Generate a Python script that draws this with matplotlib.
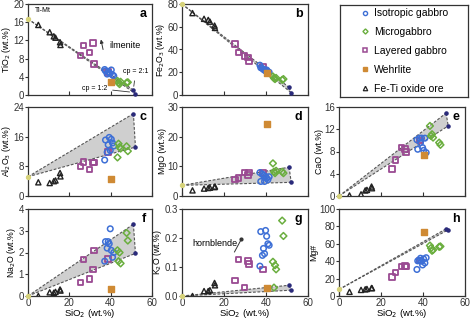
import matplotlib
matplotlib.use('Agg')
import matplotlib.pyplot as plt
from matplotlib.lines import Line2D

plt.rcParams['font.family'] = ['Liberation Sans', 'DejaVu Sans']
plt.rcParams['font.size'] = 7

# ================= data =================
# Fe-Ti oxide ore
ore_sio2 = [5.0, 10.5, 12.5, 13.3, 15.5, 15.7]
ore_tio2 = [15.4, 13.8, 12.9, 12.6, 11.6, 11.0]
ore_fe2o3 = [72, 67, 66, 64.5, 61, 59]
ore_al2o3 = [3.7, 3.5, 4.0, 4.2, 6.2, 5.3]
ore_mgo = [1.9, 2.5, 2.7, 2.8, 3.0, 3.2]
ore_cao = [0.1, 0.3, 1.0, 1.1, 1.7, 1.4]
ore_na2o = [0.0, 0.17, 0.15, 0.19, 0.30, 0.25]
ore_k2o = [0.0, 0.017, 0.017, 0.02, 0.045, 0.037]
ore_mgno = [4.8, 7.0, 7.7, 8.1, 9.2, 9.0]

# Layered gabbro
lay_sio2 = [25.3, 26.8, 29.8, 31.5, 32.0, 38.6]
lay_tio2 = [8.7, 10.9, 9.3, 11.4, 6.8, 5.0]
lay_fe2o3 = [45, 37.5, 34.5, 32.8, 29.5, 24.5]
lay_al2o3 = [8.0, 9.1, 7.1, 9.0, 9.0, 11.8]
lay_mgo = [5.5, 6.0, 7.9, 7.1, 7.9, 7.7]
lay_cao = [4.9, 6.5, 8.7, 8.4, 7.9, 10.0]
lay_na2o = [0.62, 1.68, 0.77, 1.22, 2.1, 1.7]
lay_k2o = [0.054, 0.126, 0.029, 0.12, 0.11, 0.092]
lay_mgno = [22, 27, 34, 34.5, 34, 41]

# Isotropic gabbro
iso_sio2 = [37.1, 37.5, 38.3, 38.8, 39.3, 39.8, 40.3, 40.9, 41.5]
iso_tio2 = [5.6, 5.3, 4.6, 5.1, 4.9, 4.7, 5.5, 4.4, 4.2]
iso_fe2o3 = [26.2, 24, 23.3, 22.5, 21.8, 21.2, 22, 20.5, 20]
iso_al2o3 = [9.7, 15.1, 11.8, 13.8, 15.8, 12.3, 15.3, 14.3, 13.5]
iso_mgo = [7.9, 4.9, 7.4, 6.9, 4.9, 6.6, 6.0, 5.5, 6.5]
iso_cao = [10.1, 8.4, 10.4, 9.6, 10.4, 8.7, 8.2, 10.4, 7.8]
iso_na2o = [1.6, 2.5, 2.2, 2.5, 2.4, 3.09, 2.1, 1.78, 2.0]
iso_k2o = [0.103, 0.222, 0.14, 0.164, 0.146, 0.226, 0.206, 0.18, 0.175]
iso_mgno = [30.5, 40.4, 41, 43.4, 40, 35.7, 42.6, 38, 44]

# Microgabbro
mic_sio2 = [43.3, 43.8, 44.3, 44.8, 47.7, 48.3]
mic_tio2 = [3.1, 2.7, 2.4, 2.9, 2.7, 2.8]
mic_fe2o3 = [16.3, 14.8, 14.0, 15.0, 13.3, 14.0]
mic_al2o3 = [10.4, 14.1, 13.2, 12.8, 13.4, 12.1]
mic_mgo = [11.0, 8.2, 7.7, 8.5, 8.2, 7.7]
mic_cao = [12.6, 10.8, 11.1, 10.5, 9.6, 9.2]
mic_na2o = [2.1, 1.6, 2.0, 1.5, 2.9, 2.55]
mic_k2o = [0.118, 0.029, 0.106, 0.092, 0.26, 0.207]
mic_mgno = [58, 55, 52, 53, 56.5, 57]

# Wehrlite
weh_sio2 = [40.3]
weh_vals = {'tio2': [2.8], 'fe2o3': [19.2], 'al2o3': [4.6], 'mgo': [24.2],
            'cao': [7.4], 'na2o': [0.3], 'k2o': [0.029], 'mgno': [73.5]}

# mixing band: Ti-Mt apex, cp=2:1 end, cp=1:2 end  (SiO2, oxide)
band_sio2 = [0, 51.0, 52.0]
band_tio2 = [16.7, 1.1, 0.3]
band_fe2o3 = [80, 6.7, 2.0]
band_al2o3 = [5.2, 22.2, 13.2]
band_mgo = [3.6, 9.7, 4.6]
band_cao = [0, 14.9, 12.6]
band_na2o = [0, 3.3, 1.96]
band_k2o = [0, 0.037, 0.02]
band_mgno = [7.5, 77.2, 76.1]

panels = [
    ('a', 'TiO$_2$ (wt.%)', (0, 20), [0, 4, 8, 12, 16, 20], ore_tio2, lay_tio2, iso_tio2, mic_tio2, weh_vals['tio2'], band_tio2),
    ('b', 'Fe$_2$O$_3$ (wt.%)', (0, 80), [0, 20, 40, 60, 80], ore_fe2o3, lay_fe2o3, iso_fe2o3, mic_fe2o3, weh_vals['fe2o3'], band_fe2o3),
    ('c', 'Al$_2$O$_3$ (wt.%)', (0, 24), [0, 8, 16, 24], ore_al2o3, lay_al2o3, iso_al2o3, mic_al2o3, weh_vals['al2o3'], band_al2o3),
    ('d', 'MgO (wt.%)', (0, 30), [0, 10, 20, 30], ore_mgo, lay_mgo, iso_mgo, mic_mgo, weh_vals['mgo'], band_mgo),
    ('e', 'CaO (wt.%)', (0, 16), [0, 4, 8, 12, 16], ore_cao, lay_cao, iso_cao, mic_cao, weh_vals['cao'], band_cao),
    ('f', 'Na$_2$O (wt.%)', (0, 4), [0, 1, 2, 3, 4], ore_na2o, lay_na2o, iso_na2o, mic_na2o, weh_vals['na2o'], band_na2o),
    ('g', 'K$_2$O (wt.%)', (0, 0.3), [0, 0.1, 0.2, 0.3], ore_k2o, lay_k2o, iso_k2o, mic_k2o, weh_vals['k2o'], band_k2o),
    ('h', 'Mg#', (0, 100), [0, 20, 40, 60, 80, 100], ore_mgno, lay_mgno, iso_mgno, mic_mgno, weh_vals['mgno'], band_mgno),
]

# ================= layout =================
W, H = 474, 321
col_left = [28, 182, 339]
col_w = [124, 126, 126]
row_bottom = [95, 196, 296]
row_h = [91, 89, 87]
slots = [(0, 0), (0, 1), (1, 0), (1, 1), (1, 2), (2, 0), (2, 1), (2, 2)]

c_iso = '#3d6fd6'
c_mic = '#6aae3e'
c_lay = '#9a4a92'
c_weh = '#cf8a34'
c_ore = '#222222'

fig = plt.figure(figsize=(W / 100, H / 100), dpi=100)

axes = {}
for (lab, ylab, ylim, yt, ore, lay, iso, mic, weh, band), (r, c) in zip(panels, slots):
    ax = fig.add_axes([col_left[c] / W, 1 - row_bottom[r] / H, col_w[c] / W, row_h[r] / H])
    axes[lab] = ax
    ax.fill(band_sio2, band, color='#cfcfcf', zorder=1, lw=0)
    ax.plot([band_sio2[0], band_sio2[1]], [band[0], band[1]], ls=(0, (2.5, 1.5)), color='#555555', lw=0.8, zorder=2)
    ax.plot([band_sio2[0], band_sio2[2]], [band[0], band[2]], ls=(0, (2.5, 1.5)), color='#555555', lw=0.8, zorder=2)
    ax.plot([band_sio2[1], band_sio2[2]], [band[1], band[2]], ls=(0, (2.5, 1.5)), color='#555555', lw=0.8, zorder=2)
    ax.scatter(band_sio2[1:], band[1:], s=5, color='#2a2a7a', zorder=5, clip_on=False)
    ax.scatter(band_sio2[:1], band[:1], s=8, color='#d6d27a', zorder=5, clip_on=False)

    ax.scatter(ore_sio2, ore, marker='^', s=14, facecolor='none', edgecolor=c_ore, lw=1.0, zorder=4)
    ax.scatter(lay_sio2, lay, marker='s', s=16, facecolor='none', edgecolor=c_lay, lw=1.3, zorder=4)
    ax.scatter(iso_sio2, iso, marker='o', s=16, facecolor='none', edgecolor=c_iso, lw=1.1, zorder=4)
    ax.scatter(mic_sio2, mic, marker='D', s=12, facecolor='none', edgecolor=c_mic, lw=1.1, zorder=4)
    ax.scatter(weh_sio2, weh, marker='s', s=16, color=c_weh, zorder=4)

    ax.set_xlim(0, 60)
    ax.set_ylim(*ylim)
    ax.set_yticks(yt)
    ax.set_xticks([0, 20, 40, 60])
    ax.tick_params(axis='x', direction='in', length=3, width=0.8, labelsize=7, pad=1.5, colors='#333333')
    ax.tick_params(axis='y', direction='out', length=2, width=0.8, labelsize=7, pad=0.8, colors='#333333')
    if r < 2:
        ax.tick_params(axis='x', labelbottom=False)
    else:
        ax.set_xlabel('SiO$_2$ (wt.%)', fontsize=6.8, labelpad=-0.5)
    ax.set_ylabel(ylab, fontsize=6.3, labelpad=0.5)
    for sp in ax.spines.values():
        sp.set_linewidth(0.9)
        sp.set_color('#333333')
    ax.text(0.955, 0.955, lab, transform=ax.transAxes, ha='right', va='top',
            fontsize=9, fontweight='bold')

# annotations in panel a
ax = axes['a']
ax.annotate('Ti-Mt', xy=(0.3, 16.7), xytext=(3.5, 18.2), fontsize=5,
            arrowprops=dict(arrowstyle='-', lw=0.6, color='#333333'))
ax.annotate('', xy=(35.0, 12.8), xytext=(36.6, 9.4),
            arrowprops=dict(arrowstyle='-|>', lw=0.7, color='#333333', mutation_scale=5))
ax.text(39.5, 10.9, 'ilmenite', fontsize=6.5, va='center')
ax.annotate('cp = 2:1', xy=(51.0, 1.3), xytext=(46.0, 5.1), fontsize=5, va='center',
            arrowprops=dict(arrowstyle='-', lw=0.6, color='#333333'))
ax.annotate('cp = 1:2', xy=(50.5, 0.6), xytext=(26.0, 1.5), fontsize=5, va='center',
            arrowprops=dict(arrowstyle='-', lw=0.6, color='#333333'))

# annotation in panel g
ax = axes['g']
ax.plot([25.0, 28.2], [0.152, 0.195], color='#333333', lw=0.7)
ax.scatter([28.2], [0.195], s=4, color='#333333')
ax.text(5.0, 0.18, 'hornblende', fontsize=6.5, va='center')

# legend box
ax_leg = fig.add_axes([340 / W, 1 - 97 / H, 128 / W, 92 / H])
ax_leg.set_xticks([])
ax_leg.set_yticks([])
for sp in ax_leg.spines.values():
    sp.set_linewidth(0.9)
    sp.set_color('#333333')
handles = [
    Line2D([], [], ls='none', marker='o', ms=3, mfc='none', mec=c_iso, mew=1.0),
    Line2D([], [], ls='none', marker='D', ms=2.6, mfc='none', mec=c_mic, mew=1.0),
    Line2D([], [], ls='none', marker='s', ms=3, mfc='none', mec=c_lay, mew=1.1),
    Line2D([], [], ls='none', marker='s', ms=3, color=c_weh),
    Line2D([], [], ls='none', marker='^', ms=3.2, mfc='none', mec=c_ore, mew=0.9),
]
labels = ['Isotropic gabbro', 'Microgabbro', 'Layered gabbro', 'Wehrlite', 'Fe-Ti oxide ore']
ax_leg.legend(handles, labels, loc='center', frameon=False, fontsize=7.5,
              handletextpad=0.3, handlelength=1.0, labelspacing=0.85)

plt.savefig('out.png', dpi=100)
plt.close()
